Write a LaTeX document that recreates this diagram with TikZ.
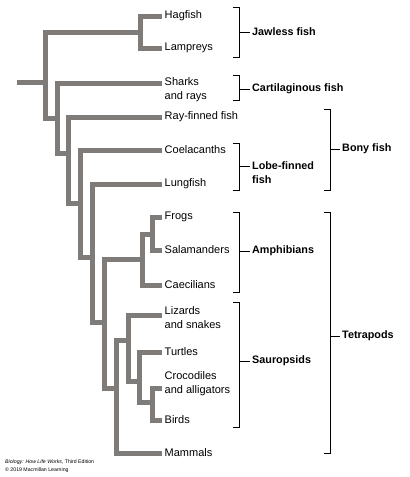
\documentclass[tikz,border=0pt]{standalone}
\usepackage{fontspec}
\setmainfont{Liberation Sans}
\usetikzlibrary{positioning}
\definecolor{treegray}{RGB}{127,123,120}
\tikzset{
  % tree branches
  branch/.style={line width=5pt, color=treegray, line join=miter},
  % leaf labels (species)
  leaf/.style={font=\fontsize{11}{14}\selectfont, align=left, inner sep=0pt},
  % group labels next to the brackets
  group/.style={font=\fontsize{10.8}{14}\selectfont\bfseries, align=left,
    anchor=west, inner xsep=2pt, inner ysep=0pt},
  brk/.style={line width=0.8pt, black},
  credit/.style={font=\fontsize{5.2}{8}\selectfont, align=left, anchor=west, inner sep=0pt}
}

\begin{document}
\begin{tikzpicture}[x=1pt, y=-1pt]
  \useasboundingbox (0,0) rectangle (410,477);

  % --- Branch tips ---
  \coordinate (hag)   at (162,16);
  \coordinate (lam)   at (162,48);
  \coordinate (shark) at (162,83);
  \coordinate (ray)   at (162,117);
  \coordinate (coel)  at (162,150);
  \coordinate (lung)  at (162,184);
  \coordinate (frog)  at (162,217);
  \coordinate (sal)   at (162,250);
  \coordinate (caec)  at (162,285);
  \coordinate (liz)   at (162,315);
  \coordinate (turt)  at (162,352);
  \coordinate (croc)  at (162,388);
  \coordinate (bird)  at (162,420);
  \coordinate (mam)   at (162,453);

  % --- Inner nodes (joints) ---
  \coordinate (root)   at (17,82);
  \coordinate (jawn)   at (140,32);
  \coordinate (n1)     at (45,82);
  \coordinate (n2)     at (57,118);
  \coordinate (n3)     at (68,153);
  \coordinate (n4)     at (80,203);
  \coordinate (n5)     at (92,257);
  \coordinate (n6)     at (104,322);
  \coordinate (n7)     at (116,388);
  \coordinate (amphn)  at (142,259);
  \coordinate (frsal)  at (152,234);
  \coordinate (saurn)  at (128,340);
  \coordinate (turtn)  at (139,381);
  \coordinate (crbird) at (152,402);

  % --- Species labels ---
  \node[leaf, right=2.5pt of hag]   (hag-l)   {Hagfish};
  \node[leaf, right=2.5pt of lam]   (lam-l)   {Lampreys};
  \node[leaf, right=2.5pt of shark, yshift=-7pt] (shark-l) {Sharks\\and rays};
  \node[leaf, right=2.5pt of ray]   (ray-l)   {Ray-finned fish};
  \node[leaf, right=2.5pt of coel]  (coel-l)  {Coelacanths};
  \node[leaf, right=2.5pt of lung]  (lung-l)  {Lungfish};
  \node[leaf, right=2.5pt of frog]  (frog-l)  {Frogs};
  \node[leaf, right=2.5pt of sal]   (sal-l)   {Salamanders};
  \node[leaf, right=2.5pt of caec]  (caec-l)  {Caecilians};
  \node[leaf, right=2.5pt of liz, yshift=-3pt]  (liz-l)  {Lizards\\and snakes};
  \node[leaf, right=2.5pt of turt]  (turt-l)  {Turtles};
  \node[leaf, right=2.5pt of croc, yshift=4pt]  (croc-l) {Crocodiles\\and alligators};
  \node[leaf, right=2.5pt of bird]  (bird-l)  {Birds};
  \node[leaf, right=2.5pt of mam]   (mam-l)   {Mammals};

  % --- Tree ---
  \draw[branch] (root) -- (n1);
  \draw[branch] (hag) -| (jawn) |- (lam);
  \draw[branch] (jawn) -| (n1) |- (n2);
  \draw[branch] (shark) -| (n2) |- (n3);
  \draw[branch] (ray) -| (n3) |- (n4);
  \draw[branch] (coel) -| (n4) |- (n5);
  \draw[branch] (lung) -| (n5) |- (n6);
  \draw[branch] (amphn) -| (n6) |- (n7);
  \draw[branch] (frog) -| (frsal) |- (sal);
  \draw[branch] (frsal) -| (amphn) |- (caec);
  \draw[branch] (saurn) -| (n7) |- (mam);
  \draw[branch] (liz) -| (saurn) |- (turtn);
  \draw[branch] (turt) -| (turtn) |- (crbird);
  \draw[branch] (croc) -| (crbird) |- (bird);

  % --- Brackets: ends and middle ---
  \coordinate (jaw-t) at (239,7);    \coordinate (jaw-b) at (239,57);   \coordinate (jaw-m) at (239,32);
  \coordinate (car-t) at (239,75);   \coordinate (car-b) at (239,100);  \coordinate (car-m) at (239,89);
  \coordinate (lob-t) at (239,143);  \coordinate (lob-b) at (239,190);  \coordinate (lob-m) at (239,166);
  \coordinate (bon-t) at (330,109);  \coordinate (bon-b) at (330,190);  \coordinate (bon-m) at (330,149);
  \coordinate (amp-t) at (239,212);  \coordinate (amp-b) at (239,292);  \coordinate (amp-m) at (239,251);
  \coordinate (sau-t) at (239,302);  \coordinate (sau-b) at (239,427);  \coordinate (sau-m) at (239,361);
  \coordinate (tet-t) at (330,212);  \coordinate (tet-b) at (330,453);  \coordinate (tet-m) at (330,336);

  % --- Group labels ---
  \node[group] (jawless) at (250,32)  {Jawless fish};
  \node[group] (cartil)  at (250,89)  {Cartilaginous fish};
  \node[group, yshift=-7pt] (lobe) at (250,166) {Lobe-finned\\fish};
  \node[group] (bony)    at (340,149) {Bony fish};
  \node[group] (amphib)  at (250,251) {Amphibians};
  \node[group] (saurop)  at (250,361) {Sauropsids};
  \node[group] (tetra)   at (340,336) {Tetrapods};

  \draw[brk] (jaw-t) ++(-6,0) -- (jaw-t) -- (jaw-b) -- ++(-6,0);
  \draw[brk] (jaw-m) -- (jawless.west);
  \draw[brk] (car-t) ++(-6,0) -- (car-t) -- (car-b) -- ++(-6,0);
  \draw[brk] (car-m) -- (cartil.west);
  \draw[brk] (lob-t) ++(-6,0) -- (lob-t) -- (lob-b) -- ++(-6,0);
  \draw[brk] (lob-m) -- (lob-m -| lobe.west);
  \draw[brk] (bon-t) ++(-6,0) -- (bon-t) -- (bon-b) -- ++(-6,0);
  \draw[brk] (bon-m) -- (bony.west);
  \draw[brk] (amp-t) ++(-6,0) -- (amp-t) -- (amp-b) -- ++(-6,0);
  \draw[brk] (amp-m) -- (amphib.west);
  \draw[brk] (sau-t) ++(-6,0) -- (sau-t) -- (sau-b) -- ++(-6,0);
  \draw[brk] (sau-m) -- (saurop.west);
  \draw[brk] (tet-t) ++(-6,0) -- (tet-t) -- (tet-b) -- ++(-6,0);
  \draw[brk] (tet-m) -- (tetra.west);

  % --- Credit line ---
  \node[credit] (credit) at (5,466)
    {\textit{Biology: How Life Works}, Third Edition\\\textcopyright{} 2019 Macmillan Learning};
\end{tikzpicture}
\end{document}
